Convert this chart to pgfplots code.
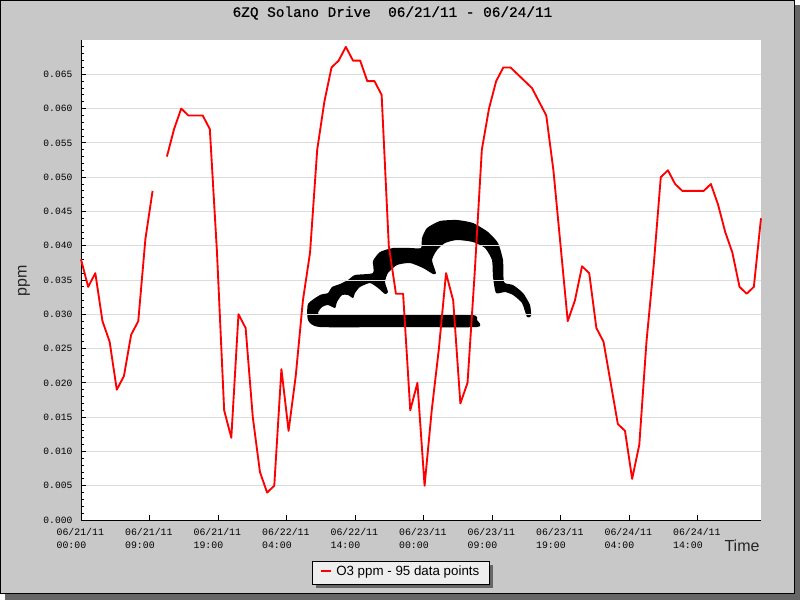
\documentclass[border=0pt]{standalone}
\usepackage{pgfplots}
\pgfplotsset{compat=1.18}
\usepackage{fontspec}
\setmainfont{Liberation Sans}
\newfontfamily\monof{Liberation Mono}
\newfontfamily\monob[FakeBold=0.6]{Liberation Mono}
\definecolor{bgg}{HTML}{C8C8C8}
\definecolor{shad}{HTML}{666666}
\definecolor{gridg}{HTML}{DCDCDC}
\definecolor{legg}{HTML}{EEEEEE}
\pgfplotstableread{
i v
0 0.038
1 0.034
2 0.036
3 0.029
4 0.026
5 0.019
6 0.021
7 0.027
8 0.029
9 0.041
10 0.048
11 nan
12 0.053
13 0.057
14 0.060
15 0.059
16 0.059
17 0.059
18 0.057
19 0.039
20 0.016
21 0.012
22 0.030
23 0.028
24 0.015
25 0.007
26 0.004
27 0.005
28 0.022
29 0.013
30 0.021
31 0.032
32 0.039
33 0.054
34 0.061
35 0.066
36 0.067
37 0.069
38 0.067
39 0.067
40 0.064
41 0.064
42 0.062
43 0.040
44 0.033
45 0.033
46 0.016
47 0.020
48 0.005
49 0.016
50 0.025
51 0.036
52 0.032
53 0.017
54 0.020
55 0.036
56 0.054
57 0.060
58 0.064
59 0.066
60 0.066
61 0.065
62 0.064
63 0.063
64 0.061
65 0.059
66 0.051
67 0.040
68 0.029
69 0.032
70 0.037
71 0.036
72 0.028
73 0.026
74 0.020
75 0.014
76 0.013
77 0.006
78 0.011
79 0.026
80 0.037
81 0.050
82 0.051
83 0.049
84 0.048
85 0.048
86 0.048
87 0.048
88 0.049
89 0.046
90 0.042
91 0.039
92 0.034
93 0.033
94 0.034
95 0.044
}\ozone
\begin{document}
\begin{tikzpicture}
\begin{scope}[x=0.75pt,y=-0.75pt]
\useasboundingbox (0,0) rectangle (800,600);
\fill[white] (0,0) rectangle (800,600);
\fill[shad] (5,5) rectangle (800,600);
\filldraw[fill=bgg,draw=black,line width=0.75pt] (0.5,0.5) rectangle (794.5,593.5);
\fill[white] (81,40) rectangle (761,520);
% cloud logo outline
\fill[black] plot[smooth cycle,tension=0.35] coordinates {
 (308,320) (308,304) (320,295) (328,293) (332,287) (340,284) (348,280) (355,275)
 (373,273) (373,261) (380,252) (393,248) (410,248) (421,248) (422,238) (427,228)
 (440,221) (457,220) (473,223) (488,232) (498,243) (503,260) (504,282) (513,285)
 (523,293) (530,305) (531,316) (527,317) (522,303) (513,295) (505,292) (496,293)
 (493,277) (492,260) (485,248) (473,242) (457,240) (445,243) (437,250) (432,260)
 (436,273) (433,274) (423,268) (410,263) (397,265) (388,273) (385,282) (388,292)
 (385,294) (378,288) (370,283) (360,287) (355,293) (353,298) (348,295) (342,295)
 (337,302) (335,308) (328,305) (322,307) (318,313) (325,315) (400,315) (472,315)
 (477,320) (477,327) (400,327) (320,327)};
\end{scope}
\begin{axis}[
  at={(60.75pt,-390pt)},anchor=south west,
  scale only axis,width=510pt,height=360pt,
  xmin=0,xmax=95,ymin=0,ymax=0.07,
  axis lines*=left,
  axis line style={line width=0.75pt,-},
  tick style={black,line width=0.75pt},
  major tick length=3.75pt,
  minor tick length=2.6pt,
  xtick={0,9.57,19.14,28.71,38.28,47.85,57.42,66.99,76.56,86.13},
  xticklabels={{06/21/11\\00:00},{06/21/11\\09:00},{06/21/11\\19:00},{06/22/11\\04:00},{06/22/11\\14:00},{06/23/11\\00:00},{06/23/11\\09:00},{06/23/11\\19:00},{06/24/11\\04:00},{06/24/11\\14:00}},
  xticklabel style={font=\monof\fontsize{7.4}{9.75}\selectfont,align=left,anchor=north,xshift=-0.5pt,yshift=-3pt},
  xtick pos=bottom,
  tick align=inside,
  scaled y ticks=false,
  ytick={0,0.005,0.01,0.015,0.02,0.025,0.03,0.035,0.04,0.045,0.05,0.055,0.06,0.065},
  yticklabels={0.000,0.005,0.010,0.015,0.020,0.025,0.030,0.035,0.040,0.045,0.050,0.055,0.060,0.065},
  yticklabel style={font=\monof\fontsize{7.2}{9}\selectfont,xshift=-3pt},
  ytick pos=left,
  minor ytick={0.001,0.002,0.003,0.004,0.006,0.007,0.008,0.009,0.011,0.012,0.013,0.014,0.016,0.017,0.018,0.019,0.021,0.022,0.023,0.024,0.026,0.027,0.028,0.029,0.031,0.032,0.033,0.034,0.036,0.037,0.038,0.039,0.041,0.042,0.043,0.044,0.046,0.047,0.048,0.049,0.051,0.052,0.053,0.054,0.056,0.057,0.058,0.059,0.061,0.062,0.063,0.064,0.066,0.067,0.068,0.069},
  ymajorgrids,
  major grid style={gridg,line width=0.75pt},
  clip=false,
  unbounded coords=jump,
]
\addplot[red,line width=1.4pt,line join=round] table[x=i,y=v] {\ozone};
\end{axis}
\begin{scope}[x=0.75pt,y=-0.75pt]
\node[font=\monob\fontsize{10.8}{12}\selectfont,anchor=center] at (392.5,13) {6ZQ Solano Drive\ \ 06/21/11 - 06/24/11};
\node[font=\fontsize{12}{14}\selectfont,rotate=90,text=black!85] at (24,281) {ppm};
\node[font=\fontsize{12}{14}\selectfont,text=black!85] at (742,546) {Time};
% legend
\fill[shad] (316,565) rectangle (493,588);
\filldraw[fill=legg,draw=black,line width=0.75pt] (312.5,561.5) rectangle (489.5,584.5);
\draw[red,line width=1.4pt] (321,571) -- (331,571);
\node[font=\fontsize{10}{11}\selectfont,anchor=west,inner sep=0pt] at (336,572) {O3 ppm - 95 data points};
\end{scope}
\end{tikzpicture}
\end{document}
